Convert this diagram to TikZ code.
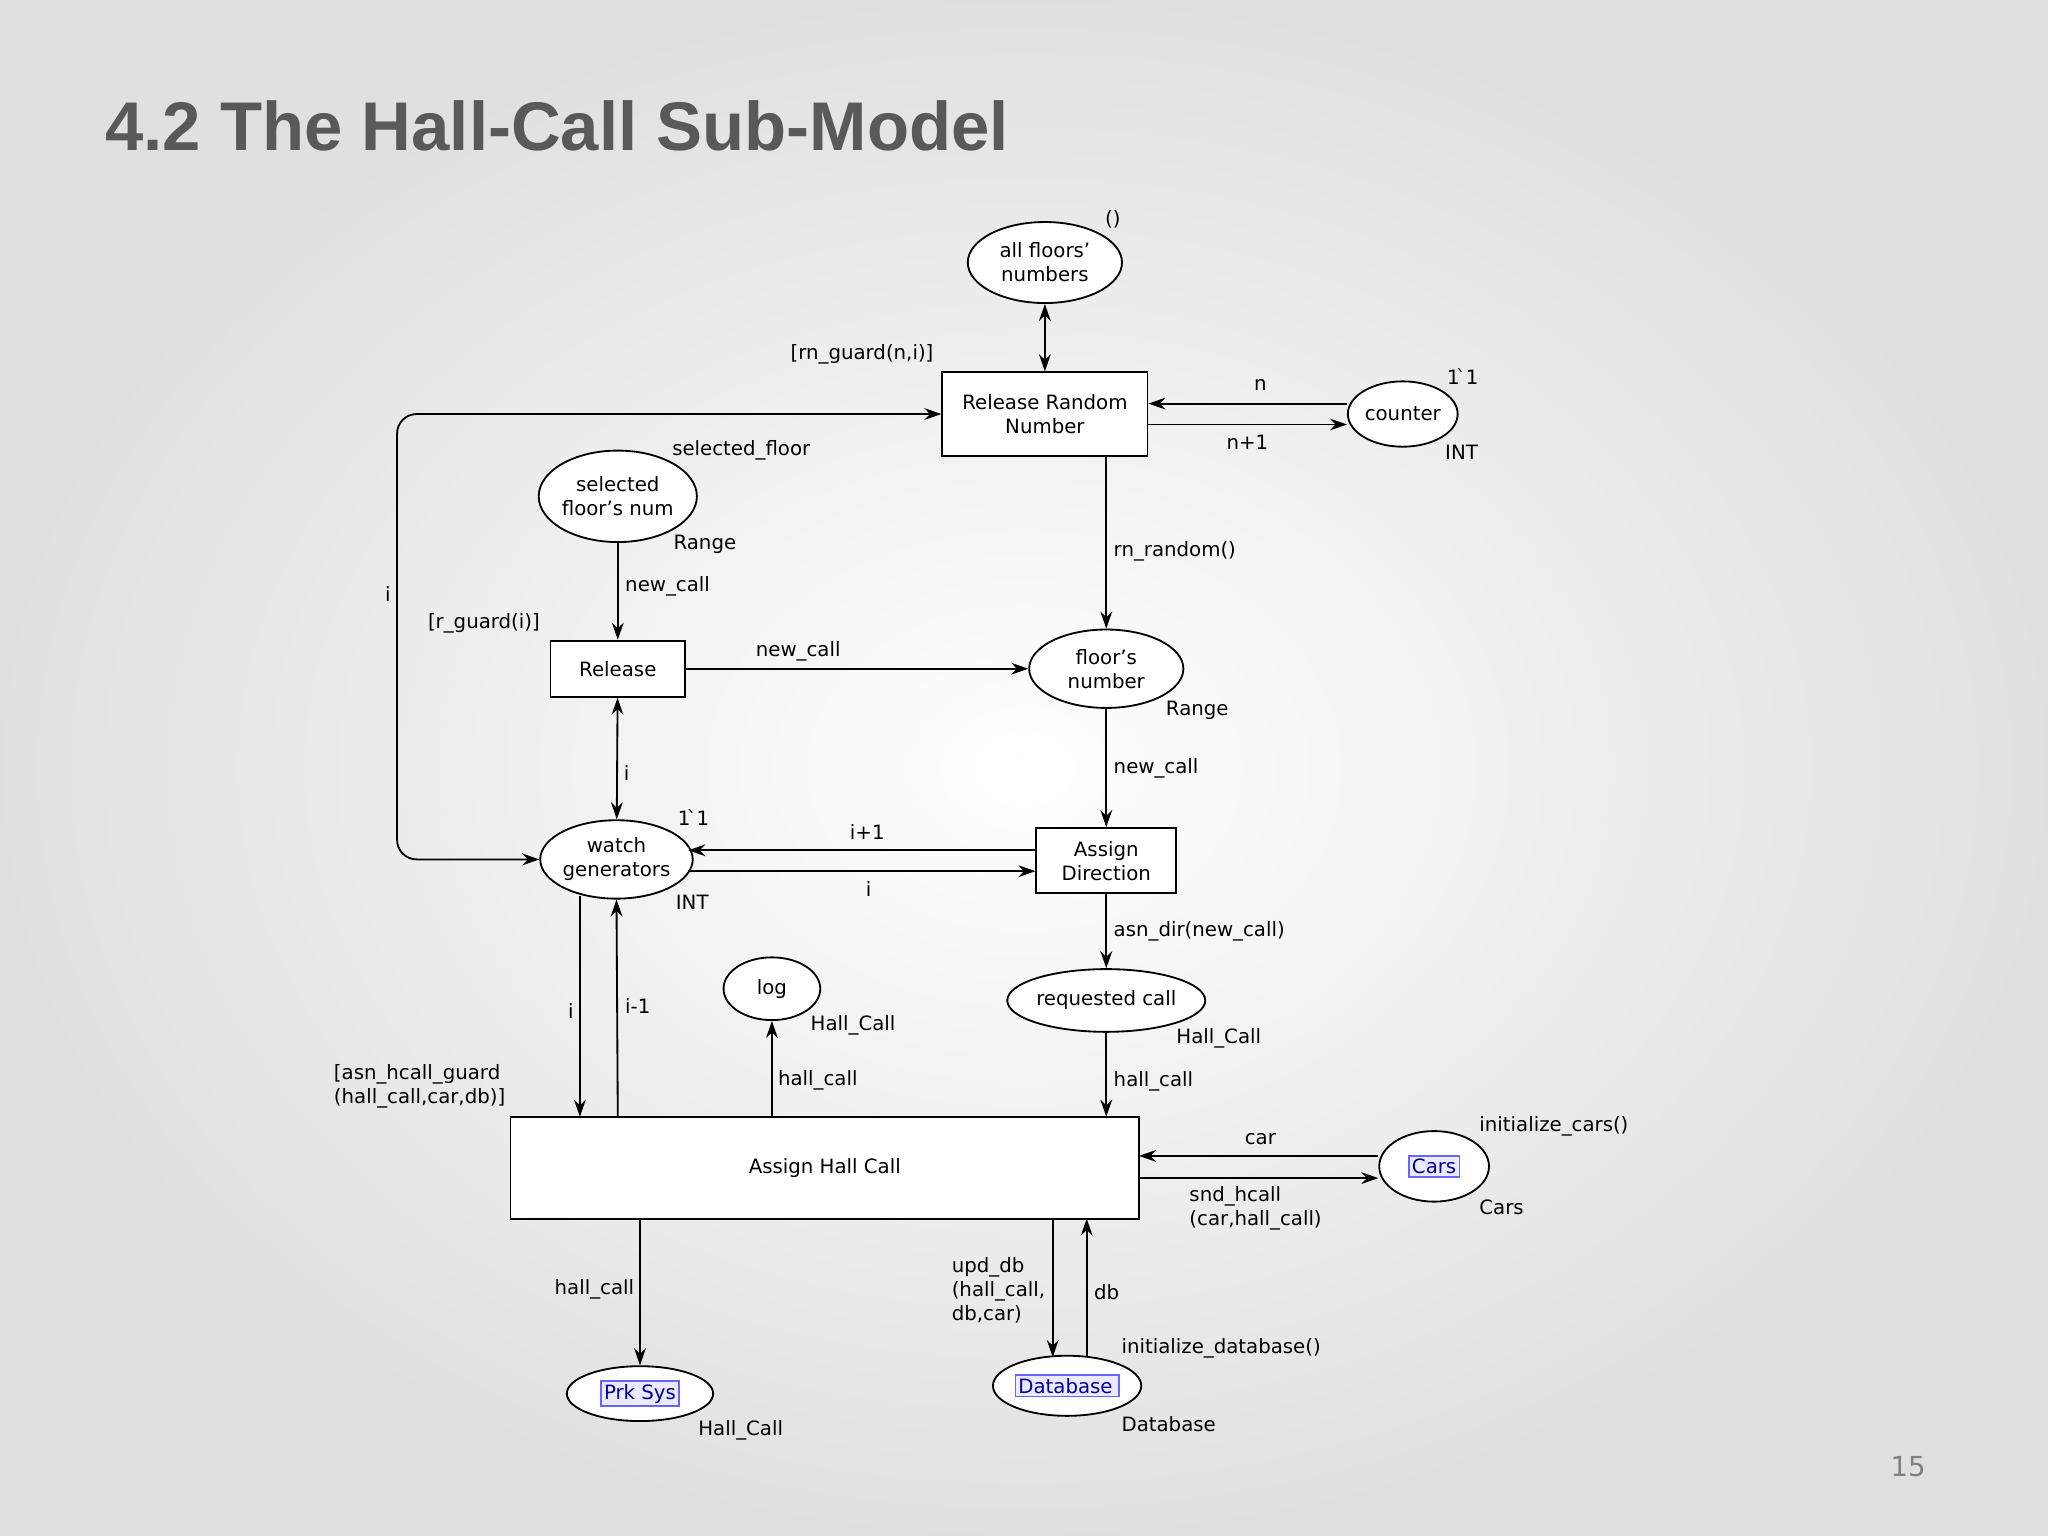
\documentclass[tikz,border=0pt]{standalone}
\usepackage{fontspec}
\setmainfont{DejaVu Sans}
\newfontfamily\titlefont{Liberation Sans}
\usetikzlibrary{shapes.geometric,arrows.meta}
\newcommand{\tagbox}[1]{{\setlength{\fboxsep}{0.5pt}\setlength{\fboxrule}{0.3pt}\fcolorbox{blue!60}{blue!8}{\textcolor{blue!60!black}{#1}}}}
\begin{document}
\begin{tikzpicture}[x=0.01cm,y=-0.01cm,
  every node/.style={font=\fontsize{4.3}{5.2}\selectfont,inner sep=0pt},
  pl/.style={draw,ellipse,line width=0.4pt,fill=white,align=center},
  tr/.style={draw,rectangle,line width=0.4pt,fill=white,align=center},
  ar/.style={-{Stealth[length=0.13cm,width=0.09cm]},line width=0.4pt},
  dar/.style={{Stealth[length=0.13cm,width=0.09cm]}-{Stealth[length=0.13cm,width=0.09cm]},line width=0.4pt},
  lb/.style={align=left,anchor=west}]
\useasboundingbox (0,0) rectangle (1568,1176);
\shade[inner color=white,outer color=black!12] (0,0) rectangle (1568,1176);
\node[anchor=west,font=\titlefont\bfseries\fontsize{15}{18}\selectfont,text=black!65] (title) at (80,96) {4.2 The Hall-Call Sub-Model};
\node[text=black!50,font=\fontsize{6}{7}\selectfont] (pg) at (1461,1123) {15};

\node[pl,minimum width=1.18cm,minimum height=0.62cm] (af) at (800,201) {all floors'\\numbers};
\node[tr,minimum width=1.57cm,minimum height=0.64cm] (rrn) at (800,317) {Release Random\\ Number};
\node[pl,minimum width=0.84cm,minimum height=0.50cm] (cnt) at (1074,317) {counter};
\node[pl,minimum width=1.08cm,minimum height=0.70cm] (sel) at (473,380) {selected\\floor's num};
\node[tr,minimum width=1.03cm,minimum height=0.43cm] (rel) at (473,512) {Release};
\node[pl,minimum width=1.18cm,minimum height=0.60cm] (fn) at (847,512) {floor's\\number};
\node[pl,minimum width=1.12cm,minimum height=0.60cm] (wg) at (472,658) {watch\\generators};
\node[tr,minimum width=1.07cm,minimum height=0.50cm] (ad) at (847,659) {Assign\\Direction};
\node[pl,minimum width=0.74cm,minimum height=0.48cm] (log) at (591,757) {log};
\node[pl,minimum width=1.42cm,minimum height=0.48cm] (rc) at (847,766) {requested call};
\node[tr,minimum width=4.81cm,minimum height=0.78cm] (ahc) at (631.5,894) {Assign Hall Call};
\node[pl,minimum width=0.84cm,minimum height=0.54cm] (cars) at (1098,893) {\tagbox{Cars}};
\node[pl,minimum width=1.12cm,minimum height=0.42cm] (prk) at (490,1067) {\tagbox{Prk Sys}};
\node[pl,minimum width=1.02cm,minimum height=0.46cm] (db) at (817,1061) {\tagbox{Database\,}};

\draw[dar] (af) -- (rrn);
\draw[ar] (cnt.west |- 0,309) -- (rrn.east |- 0,309);
\draw[ar] (rrn.east |- 0,325) -- (cnt.west |- 0,325);
\draw[ar] (rrn.south -| fn) -- (fn);
\draw[ar] (sel) -- (rel);
\draw[ar] (rel) -- (fn);
\draw[dar] (rel) -- (wg);
\draw[ar] (fn) -- (ad);
\draw[ar] (ad.west |- 0,651) -- (527,651);
\draw[ar] (527,667) -- (ad.west |- 0,667);
\draw[dar,rounded corners=0.15cm] (wg.west) -- (304,658) -- (304,317) -- (rrn.west);
\draw[ar] (ad) -- (rc);
\draw[ar] (444,686) -- (444,855);
\draw[ar] (473,855) -- (wg.south);
\draw[ar] (591,855) -- (log);
\draw[ar] (rc) -- (847,855);
\draw[ar] (cars.west |- 0,885) -- (872,885);
\draw[ar] (872,902) -- (cars.west |- 0,902);
\draw[ar] (490,933) -- (prk);
\draw[ar] (806,933) -- (806,1039);
\draw[ar] (832,1038) -- (832,933);

\node (l1) at (852,168) {()};
\node (l2) at (660,271) {[rn\_guard(n,i)]};
\node (l3) at (965,295) {n};
\node (l4) at (955,339) {n+1};
\node (l5) at (1120,288) {1\`{}1};
\node (l6) at (1119,346) {INT};
\node[lb] (l7) at (514,345) {selected\_floor};
\node[lb] (l8) at (515,417) {Range};
\node[lb] (l9) at (478,449) {new\_call};
\node[lb] (l10) at (852,422) {rn\_random()};
\node (l11) at (297,455) {i};
\node[lb] (l12) at (327,477) {[r\_guard(i)]};
\node[lb] (l13) at (578,499) {new\_call};
\node[lb] (l14) at (892,544) {Range};
\node[lb] (l15) at (477,592) {i};
\node[lb] (l16) at (852,588) {new\_call};
\node (l17) at (531,626) {1\`{}1};
\node (l18) at (664,637) {i+1};
\node (l19) at (665,681) {i};
\node (l20) at (530,691) {INT};
\node[lb] (l21) at (852,713) {asn\_dir(new\_call)};
\node (l22) at (437,774) {i};
\node[lb] (l23) at (478,770) {i-1};
\node[lb] (l24) at (620,785) {Hall\_Call};
\node[lb] (l25) at (900,795) {Hall\_Call};
\node[lb] (l26) at (595,827) {hall\_call};
\node[lb] (l27) at (852,828) {hall\_call};
\node[lb] (l28) at (255,832) {[asn\_hcall\_guard\\(hall\_call,car,db)]};
\node[lb] (l29) at (1132,862) {initialize\_cars()};
\node (l30) at (965,872) {car};
\node[lb] (l31) at (910,925) {snd\_hcall\\(car,hall\_call)};
\node[lb] (l32) at (1132,924) {Cars};
\node[lb] (l33) at (424,987) {hall\_call};
\node[lb] (l34) at (728,988) {upd\_db\\(hall\_call,\\db,car)};
\node[lb] (l35) at (837,989) {db};
\node[lb] (l36) at (858,1032) {initialize\_database()};
\node[lb] (l37) at (858,1090) {Database};
\node[lb] (l38) at (534,1095) {Hall\_Call};
\end{tikzpicture}
\end{document}
